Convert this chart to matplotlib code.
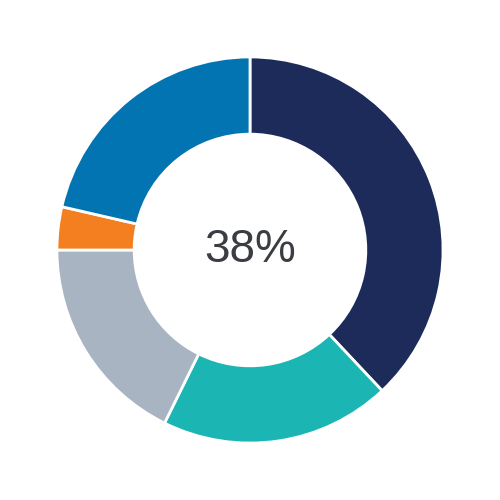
import matplotlib
matplotlib.use("Agg")
import matplotlib.pyplot as plt

# segment shares in percent, clockwise from 12 o'clock
labels = ["Navy", "Teal", "Gray", "Orange", "Blue"]
values = [38, 19.3, 17.7, 3.6, 21.4]
colors = ["#1c2b5a", "#1bb5b4", "#a9b4c3", "#f37f20", "#0274b2"]
center_text = "38%"

fig = plt.figure(figsize=(5, 5), dpi=100)
ax = fig.add_axes([0, 0, 1, 1])

ax.pie(values, colors=colors, startangle=90, counterclock=False,
       wedgeprops=dict(width=0.4, edgecolor="white", linewidth=2))

ax.text(0, 0.0, center_text, ha="center", va="center", fontsize=33,
        color="#3a3d42", family="Liberation Sans")

ax.set_xlim(-1.295, 1.295)
ax.set_ylim(-1.295, 1.295)
ax.set_aspect("equal")
ax.axis("off")

fig.savefig("out.png", dpi=100, facecolor="white")
